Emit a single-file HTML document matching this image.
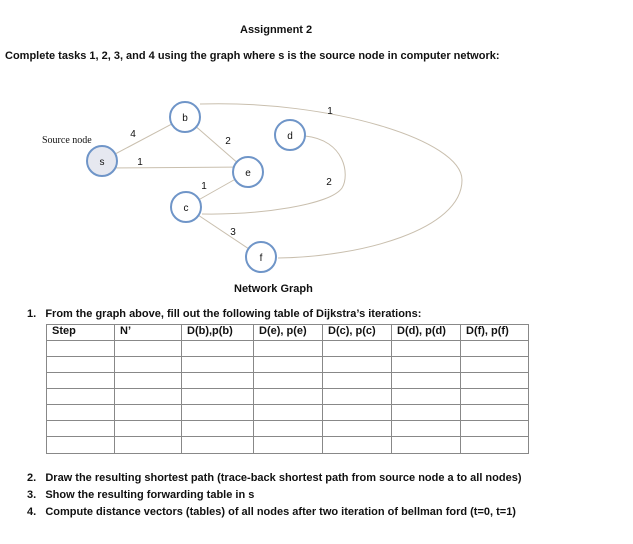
<!DOCTYPE html>
<html><head><style>
body{margin:0;width:633px;height:544px;background:#fff;position:relative;font-family:"Liberation Sans",sans-serif;overflow:hidden}
.t{position:absolute;font-size:11px;font-weight:bold;color:#111;white-space:nowrap}
table{position:absolute;left:46px;top:324px;border-collapse:collapse}
td{border:1px solid #888;height:15px;padding:0 0 0 5px;font-size:11px;font-weight:bold;color:#111;vertical-align:top;box-sizing:border-box}
</style></head><body>
<div class="t" style="left:240px;top:24px">Assignment 2</div>
<div class="t" style="left:5px;top:50px">Complete tasks 1, 2, 3, and 4 using the graph where s is the source node in computer network:</div>
<svg width="633" height="300" style="position:absolute;left:0;top:0" font-family="Liberation Sans,sans-serif" font-size="10">
<g stroke="#c9bfae" stroke-width="1" fill="none">
<line x1="102" y1="161" x2="185" y2="117"/>
<line x1="102" y1="168" x2="248" y2="167"/>
<line x1="185" y1="117" x2="248" y2="172"/>
<line x1="186" y1="207" x2="248" y2="172"/>
<line x1="186" y1="207" x2="261" y2="257"/>
<path d="M200,104 C330,100 462,140 462,180 C462,230 360,257 278,258"/>
<path d="M305,136 C345,140 350,175 342,188 C330,205 260,215 202,214"/>
</g>
<g fill="#fff" stroke="#6f95c8" stroke-width="2">
<circle cx="185" cy="117" r="15"/><circle cx="290" cy="135" r="15"/>
<circle cx="102" cy="161" r="15" fill="#e6e8f0"/><circle cx="248" cy="172" r="15"/>
<circle cx="186" cy="207" r="15"/><circle cx="261" cy="257" r="15"/>
</g>
<g fill="#111" text-anchor="middle">
<text x="185" y="121">b</text><text x="290" y="139">d</text><text x="102" y="165">s</text>
<text x="248" y="176">e</text><text x="186" y="211">c</text><text x="261" y="261">f</text>
<text x="133" y="137">4</text><text x="228" y="144">2</text><text x="140" y="165">1</text>
<text x="204" y="189">1</text><text x="233" y="235">3</text><text x="330" y="114">1</text><text x="329" y="185">2</text>
</g>
<text x="42" y="143" font-family="Liberation Serif,serif" font-size="10" fill="#111">Source node</text>
</svg>
<div class="t" style="left:234px;top:283px">Network Graph</div>
<div class="t" style="left:27px;top:308px">1.&nbsp;&nbsp;&nbsp;From the graph above, fill out the following table of Dijkstra’s iterations:</div>
<table>
<tr style="height:16px"><td style="width:68px">Step</td><td style="width:67px">N’</td><td style="width:72px">D(b),p(b)</td><td style="width:69px">D(e), p(e)</td><td style="width:69px">D(c), p(c)</td><td style="width:69px">D(d), p(d)</td><td style="width:68px">D(f), p(f)</td></tr>
<tr style="height:16px"><td></td><td></td><td></td><td></td><td></td><td></td><td></td></tr>
<tr style="height:16px"><td></td><td></td><td></td><td></td><td></td><td></td><td></td></tr>
<tr style="height:16px"><td></td><td></td><td></td><td></td><td></td><td></td><td></td></tr>
<tr style="height:16px"><td></td><td></td><td></td><td></td><td></td><td></td><td></td></tr>
<tr style="height:16px"><td></td><td></td><td></td><td></td><td></td><td></td><td></td></tr>
<tr style="height:16px"><td></td><td></td><td></td><td></td><td></td><td></td><td></td></tr>
<tr style="height:17px"><td></td><td></td><td></td><td></td><td></td><td></td><td></td></tr>
</table>
<div class="t" style="left:27px;top:472px">2.&nbsp;&nbsp;&nbsp;Draw the resulting shortest path (trace-back shortest path from source node a to all nodes)</div>
<div class="t" style="left:27px;top:489px">3.&nbsp;&nbsp;&nbsp;Show the resulting forwarding table in s</div>
<div class="t" style="left:27px;top:506px">4.&nbsp;&nbsp;&nbsp;Compute distance vectors (tables) of all nodes after two iteration of bellman ford (t=0, t=1)</div>
</body></html>
